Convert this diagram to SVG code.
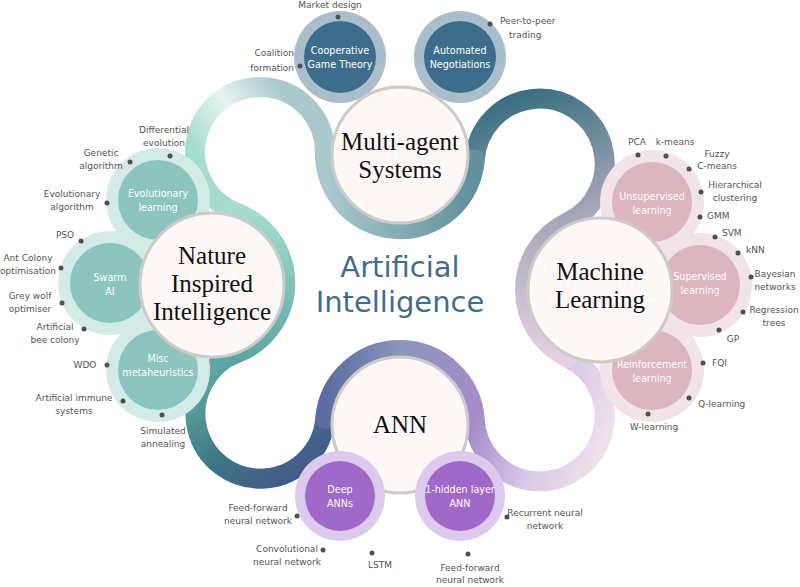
<svg xmlns="http://www.w3.org/2000/svg" width="800" height="587" viewBox="0 0 800 587">
<defs>
<style>
.band{fill:none;stroke-width:20;stroke-linecap:round}
.main{fill:#fdf8f7;stroke:#cfcaca;stroke-width:3}
.mt{font-family:"Liberation Serif",serif;font-size:25px;fill:#111;text-anchor:middle}
.st{font-family:"DejaVu Sans",sans-serif;font-size:9.6px;fill:#fff;text-anchor:middle}
.lb{font-family:"DejaVu Sans",sans-serif;font-size:9px;fill:#555}
.c{text-anchor:middle}.e{text-anchor:end}
.dot{fill:#505050}
</style>
<linearGradient id="g1" gradientUnits="userSpaceOnUse" x1="325" y1="153" x2="237" y2="213"><stop offset="0" stop-color="#a9c9cd"/><stop offset="0.5" stop-color="#e6f4f0"/><stop offset="1" stop-color="#a4dccd"/></linearGradient>
<linearGradient id="g2" gradientUnits="userSpaceOnUse" x1="0" y1="213" x2="0" y2="353"><stop offset="0" stop-color="#a4dccd"/><stop offset="1" stop-color="#5ea9a3"/></linearGradient>
<linearGradient id="g3" gradientUnits="userSpaceOnUse" x1="237" y1="353" x2="325" y2="480"><stop offset="0" stop-color="#5ea9a3"/><stop offset="0.5" stop-color="#3d7684"/><stop offset="1" stop-color="#46508e"/></linearGradient>
<linearGradient id="g4" gradientUnits="userSpaceOnUse" x1="325" y1="0" x2="475" y2="0"><stop offset="0" stop-color="#5a6ca0"/><stop offset="0.5" stop-color="#8796bc"/><stop offset="1" stop-color="#a48cc8"/></linearGradient>
<linearGradient id="g5" gradientUnits="userSpaceOnUse" x1="475" y1="420" x2="600" y2="470"><stop offset="0" stop-color="#a48cc8"/><stop offset="0.5" stop-color="#d8c8e8"/><stop offset="1" stop-color="#efe3ea"/></linearGradient>
<linearGradient id="g6" gradientUnits="userSpaceOnUse" x1="0" y1="358" x2="0" y2="222"><stop offset="0" stop-color="#e4d0e0"/><stop offset="1" stop-color="#a8a8b8"/></linearGradient>
<linearGradient id="g7" gradientUnits="userSpaceOnUse" x1="568" y1="222" x2="520" y2="95"><stop offset="0" stop-color="#a8a8b8"/><stop offset="1" stop-color="#3a7082"/></linearGradient>
<linearGradient id="g8" gradientUnits="userSpaceOnUse" x1="475" y1="0" x2="325" y2="0"><stop offset="0" stop-color="#5f909c"/><stop offset="1" stop-color="#a9c9cd"/></linearGradient>
</defs>
<rect width="800" height="587" fill="#fff"/>
<g id="connectors">
<path class="band" stroke="url(#g1)" d="M325,153.4 A65,65 0 1 0 236.8,212.8"/>
<path class="band" stroke="url(#g2)" d="M236.8,212.8 A75,75 0 0 1 237,353"/>
<path class="band" stroke="url(#g3)" d="M237,353 A65,65 0 1 0 325.2,418.9"/>
<path class="band" stroke="url(#g4)" d="M325.2,418.9 A75,75 0 0 1 474.8,420.4"/>
<path class="band" stroke="url(#g5)" d="M474.8,420.4 A65,65 0 1 0 567.7,357.7"/>
<path class="band" stroke="url(#g6)" d="M567.7,357.7 A75,75 0 0 1 567.7,222.3"/>
<path class="band" stroke="url(#g7)" d="M567.7,222.3 A65,65 0 1 0 474.8,159.6"/>
<path class="band" stroke="url(#g8)" d="M474.8,159.6 A75,75 0 0 1 325,153.4"/>
</g>
<g id="title"><text x="400" y="277" font-family="'DejaVu Sans',sans-serif" font-size="29" fill="#3f6e8e" text-anchor="middle">Artificial</text><text x="400" y="312" font-family="'DejaVu Sans',sans-serif" font-size="29" fill="#3f6e8e" text-anchor="middle">Intelligence</text></g>
<g id="mas-subs">
<g id="cgt"><circle cx="340" cy="57" r="46" fill="#a8bfcb"/><circle cx="340" cy="57" r="36" fill="#3c6d8b"/><text class="st" x="340" y="54">Cooperative</text><text class="st" x="340" y="68">Game Theory</text></g>
<g id="an"><circle cx="460" cy="57" r="46" fill="#a8bfcb"/><circle cx="460" cy="57" r="36" fill="#3c6d8b"/><text class="st" x="460" y="54">Automated</text><text class="st" x="460" y="68">Negotiations</text></g>
</g>
<g id="nature-subs">
<g id="evo"><circle cx="158" cy="200" r="52" fill="#d3ebe7"/><circle cx="158" cy="200" r="40" fill="#8cc4be"/><text class="st" x="158" y="197">Evolutionary</text><text class="st" x="158" y="211">learning</text></g>
<g id="swarm"><circle cx="110" cy="283" r="52" fill="#d3ebe7"/><circle cx="110" cy="283" r="40" fill="#8cc4be"/><text class="st" x="110" y="281">Swarm</text><text class="st" x="110" y="295">AI</text></g>
<g id="misc"><circle cx="158" cy="370" r="52" fill="#d3ebe7"/><circle cx="158" cy="370" r="40" fill="#8cc4be"/><text class="st" x="158" y="362">Misc</text><text class="st" x="158" y="376">metaheuristics</text></g>
</g>
<g id="ml-subs">
<g id="unsup"><circle cx="652" cy="202" r="52" fill="#f1e3e7"/><circle cx="652" cy="202" r="40" fill="#dbb5bf"/><text class="st" x="652" y="200">Unsupervised</text><text class="st" x="652" y="214">learning</text></g>
<g id="sup"><circle cx="700" cy="285" r="52" fill="#f1e3e7"/><circle cx="700" cy="285" r="40" fill="#dbb5bf"/><text class="st" x="700" y="280">Supervised</text><text class="st" x="700" y="294">learning</text></g>
<g id="rl"><circle cx="652" cy="370" r="52" fill="#f1e3e7"/><circle cx="652" cy="370" r="40" fill="#dbb5bf"/><text class="st" x="652" y="368">Reinforcement</text><text class="st" x="652" y="382">learning</text></g>
</g>
<g id="mas"><circle class="main" cx="400" cy="155" r="68"/><text class="mt" x="400" y="150">Multi-agent</text><text class="mt" x="400" y="178">Systems</text></g>
<g id="nature"><circle class="main" cx="212" cy="285" r="72"/><text class="mt" x="212" y="264">Nature</text><text class="mt" x="212" y="292">Inspired</text><text class="mt" x="212" y="320">Intelligence</text></g>
<g id="ml"><circle class="main" cx="600" cy="290" r="72"/><text class="mt" x="600" y="280">Machine</text><text class="mt" x="600" y="308">Learning</text></g>
<g id="ann"><circle class="main" cx="400" cy="425" r="68"/><text class="mt" x="400" y="433">ANN</text></g>
<g id="ann-subs">
<g id="deep"><circle cx="340" cy="496" r="45" fill="#dccbed"/><circle cx="340" cy="496" r="35" fill="#a068c8"/><text class="st" x="340" y="493">Deep</text><text class="st" x="340" y="507">ANNs</text></g>
<g id="hidden"><circle cx="460" cy="496" r="45" fill="#dccbed"/><circle cx="460" cy="496" r="35" fill="#a068c8"/><text class="st" x="460" y="493">1-hidden layer</text><text class="st" x="460" y="507">ANN</text></g>
</g>
<g id="labels">
<circle class="dot" cx="300" cy="66" r="2.5"/><text class="lb e" x="294" y="56">Coalition</text><text class="lb e" x="294" y="71">formation</text>
<circle class="dot" cx="338" cy="17" r="2.5"/><text class="lb c" x="330" y="8">Market design</text>
<circle class="dot" cx="490" cy="24" r="2.5"/><text class="lb" x="500" y="24">Peer-to-peer</text><text class="lb" x="509" y="38">trading</text>
<circle class="dot" cx="170" cy="156" r="2.5"/><text class="lb c" x="164" y="133">Differential</text><text class="lb c" x="164" y="146">evolution</text>
<circle class="dot" cx="130" cy="162" r="2.5"/><text class="lb c" x="101" y="156">Genetic</text><text class="lb c" x="101" y="169">algorithm</text>
<circle class="dot" cx="107" cy="203" r="2.5"/><text class="lb c" x="72" y="197">Evolutionary</text><text class="lb c" x="72" y="210">algorithm</text>
<circle class="dot" cx="81" cy="241" r="2.5"/><text class="lb c" x="65" y="238">PSO</text>
<circle class="dot" cx="61" cy="268" r="2.5"/><text class="lb c" x="28" y="261">Ant Colony</text><text class="lb c" x="28" y="274">optimisation</text>
<circle class="dot" cx="62" cy="303" r="2.5"/><text class="lb c" x="30" y="299">Grey wolf</text><text class="lb c" x="30" y="312">optimiser</text>
<circle class="dot" cx="84" cy="329" r="2.5"/><text class="lb c" x="55" y="330">Artificial</text><text class="lb c" x="55" y="343">bee colony</text>
<circle class="dot" cx="107" cy="365" r="2.5"/><text class="lb c" x="85" y="368">WDO</text>
<circle class="dot" cx="123" cy="401" r="2.5"/><text class="lb c" x="74" y="401">Artificial immune</text><text class="lb c" x="74" y="414">systems</text>
<circle class="dot" cx="162" cy="415" r="2.5"/><text class="lb c" x="163" y="434">Simulated</text><text class="lb c" x="163" y="447">annealing</text>
<circle class="dot" cx="638" cy="155" r="2.5"/><text class="lb c" x="637" y="145">PCA</text>
<circle class="dot" cx="666" cy="156" r="2.5"/><text class="lb c" x="675" y="145">k-means</text>
<circle class="dot" cx="689" cy="169" r="2.5"/><text class="lb c" x="717" y="157">Fuzzy</text><text class="lb c" x="717" y="169">C-means</text>
<circle class="dot" cx="701" cy="192" r="2.5"/><text class="lb c" x="735" y="188">Hierarchical</text><text class="lb c" x="735" y="201">clustering</text>
<circle class="dot" cx="700" cy="217" r="2.5"/><text class="lb" x="707" y="219">GMM</text>
<circle class="dot" cx="715" cy="237" r="2.5"/><text class="lb" x="722" y="236">SVM</text>
<circle class="dot" cx="738" cy="253" r="2.5"/><text class="lb" x="746" y="253">kNN</text>
<circle class="dot" cx="751" cy="277" r="2.5"/><text class="lb c" x="775" y="277">Bayesian</text><text class="lb c" x="775" y="290">networks</text>
<circle class="dot" cx="743" cy="312" r="2.5"/><text class="lb c" x="774" y="313">Regression</text><text class="lb c" x="774" y="326">trees</text>
<circle class="dot" cx="719" cy="330" r="2.5"/><text class="lb c" x="733" y="342">GP</text>
<circle class="dot" cx="703" cy="363" r="2.5"/><text class="lb" x="712" y="366">FQI</text>
<circle class="dot" cx="689" cy="398" r="2.5"/><text class="lb" x="698" y="407">Q-learning</text>
<circle class="dot" cx="648" cy="414" r="2.5"/><text class="lb c" x="654" y="430">W-learning</text>
<circle class="dot" cx="297" cy="516" r="2.5"/><text class="lb c" x="258" y="511">Feed-forward</text><text class="lb c" x="258" y="524">neural network</text>
<circle class="dot" cx="323" cy="550" r="2.5"/><text class="lb c" x="287" y="552">Convolutional</text><text class="lb c" x="287" y="565">neural network</text>
<circle class="dot" cx="372" cy="553" r="2.5"/><text class="lb c" x="380" y="568">LSTM</text>
<circle class="dot" cx="507" cy="517" r="2.5"/><text class="lb c" x="545" y="516">Recurrent neural</text><text class="lb c" x="545" y="529">network</text>
<circle class="dot" cx="468" cy="554" r="2.5"/><text class="lb c" x="470" y="571">Feed-forward</text><text class="lb c" x="470" y="583">neural network</text>
</g>
</svg>
